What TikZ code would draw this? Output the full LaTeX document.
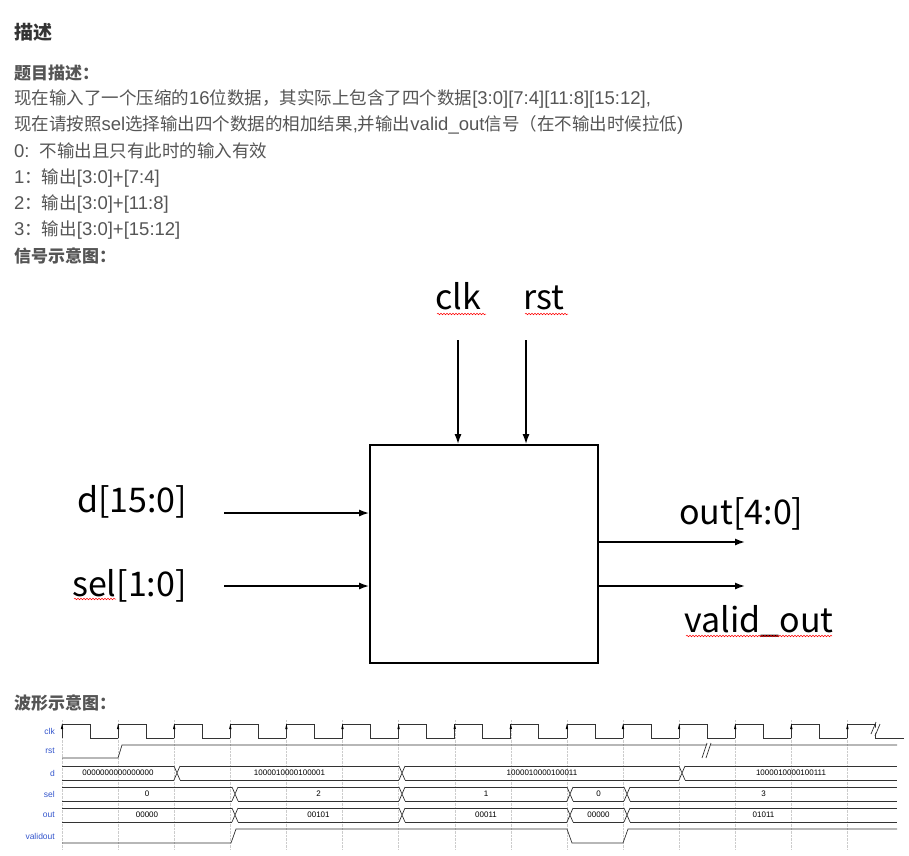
\documentclass[tikz,border=0pt]{standalone}
\usepackage{fontspec}
\setmainfont{Liberation Sans}
\newfontfamily\cjk{Noto Sans CJK SC}
\newfontfamily\wavefont{Liberation Sans}
\usetikzlibrary{arrows.meta,decorations.pathmorphing}
\definecolor{txtgray}{HTML}{555555}
\definecolor{sigblue}{HTML}{3355CC}
\begin{document}
\begin{tikzpicture}[x=1pt,y=-1pt,
    line/.style = {anchor=base west, inner sep=0pt, text=txtgray,
                   font=\fontsize{18.5}{21}\selectfont},
    head/.style = {line, font=\cjk\fontsize{17}{19}\selectfont\bfseries},
    port/.style = {anchor=base west, inner sep=0pt,
                   font=\cjk\fontsize{34}{38}\selectfont},
    pin/.style = {line width=1.5pt, -{Latex[length=10pt,width=7pt]}},
    spell/.style = {red, line width=0.5pt, decorate,
                    decoration={snake, amplitude=0.8pt, segment length=3pt}},
    wave/.style = {line width=0.7pt, black!80},
    grid/.style = {gray!40, densely dotted, line width=0.4pt},
    sig/.style = {anchor=east, inner sep=0pt, text=sigblue,
                  font=\wavefont\fontsize{8.5}{9}\selectfont},
    val/.style = {inner sep=0pt, font=\wavefont\fontsize{8}{9}\selectfont}]
    \useasboundingbox (0,0) rectangle (909,855);

    % text
    \node [head, font=\cjk\fontsize{19}{22}\selectfont\bfseries, text=black!80] (t0) at (14,39) {描述};
    \node [head] (t1) at (14,79) {题目描述：};
    \node [line] (t2) at (14,104) {{\cjk\fontsize{17.5}{21}\selectfont 现在输入了一个压缩的}16{\cjk\fontsize{17.5}{21}\selectfont 位数据，其实际上包含了四个数据}[3:0][7:4][11:8][15:12],};
    \node [line] (t3) at (14,130) {{\cjk\fontsize{17.5}{21}\selectfont 现在请按照}sel{\cjk\fontsize{17.5}{21}\selectfont 选择输出四个数据的相加结果}{,}{\cjk\fontsize{17.5}{21}\selectfont 并输出}valid\_out{\cjk\fontsize{17.5}{21}\selectfont 信号（在不输出时候拉低}{)}};
    \node [line] (t4) at (14,157) {0:\ \ {\cjk\fontsize{17.5}{21}\selectfont 不输出且只有此时的输入有效}};
    \node [line] (t5) at (14,183) {1{\cjk\fontsize{17.5}{21}\selectfont ：输出}[3:0]+[7:4]};
    \node [line] (t6) at (14,209) {2{\cjk\fontsize{17.5}{21}\selectfont ：输出}[3:0]+[11:8]};
    \node [line] (t7) at (14,235) {3{\cjk\fontsize{17.5}{21}\selectfont ：输出}[3:0]+[15:12]};
    \node [head] (t8) at (14,262) {信号示意图：};
    \node [head] (t9) at (14,709) {波形示意图：};

    % block
    \node [draw, line width=1.8pt, minimum width=228pt, minimum height=218pt,
           inner sep=0pt] (blk) at (484,554) {};
    \node [port] (clk) at (435,309) {clk};
    \node [port] (rst) at (523,309) {rst};
    \node [port] (d) at (77,512) {d[15:0]};
    \node [port] (sel) at (72,596) {sel[1:0]};
    \node [port] (out) at (679,524) {out[4:0]};
    \node [port] (vout) at (684,632) {valid\_out};
    \coordinate (clkin) at (458,340);
    \coordinate (rstin) at (526,340);
    \coordinate (din) at (224,513);
    \coordinate (selin) at (224,586);
    \coordinate (oend) at (745,542);
    \coordinate (vend) at (745,586);
    \draw [pin] (clkin) -- (clkin |- blk.north);
    \draw [pin] (rstin) -- (rstin |- blk.north);
    \draw [pin] (din) -- (din -| blk.west);
    \draw [pin] (selin) -- (selin -| blk.west);
    \draw [pin] (oend -| blk.east) -- (oend);
    \draw [pin] (vend -| blk.east) -- (vend);
    \draw [spell] (437,314) -- (486,314);
    \draw [spell] (525,314) -- (568,314);
    \draw [spell] (74,599) -- (116,599);
    \draw [spell] (686,636) -- (832,636);

    % waveform
    \foreach \e in {0,...,14}
        \draw [grid] (62+56.1*\e,720) -- (62+56.1*\e,850);
    \node [sig] (lclk) at (55,731) {clk};
    \node [sig] (lrst) at (55,751) {rst};
    \node [sig] (ld) at (55,773) {d};
    \node [sig] (lsel) at (55,794) {sel};
    \node [sig] (lout) at (55,815) {out};
    \node [sig] (lvo) at (55,836) {validout};
    \foreach \e in {0,...,14} {
        \draw [wave] (62+56.1*\e,738) -- (62+56.1*\e,724) -- (90+56.1*\e,724)
            -- (90+56.1*\e,738) -- (118.1+56.1*\e,738);
        \fill (62+56.1*\e,724) -- (60.8+56.1*\e,729) -- (63.2+56.1*\e,729) -- cycle;
    }
    \draw [white, line width=3pt] (873,734) -- (880,724);
    \draw [wave] (871,734) -- (876,722) (875,736) -- (880,724);
    \draw [wave] (62,758) -- (118,758) -- (122,745) -- (897,745);
    \draw [white, line width=3pt] (704,757) -- (710,742);
    \draw [wave] (702,758) -- (707,743) (706,758) -- (711,743);
    % buses
    \foreach \y/\segs in {766/{59/177/0000000000000000,177/402/1000010000100001,402/682/1000010000100011,682/900/1000010000100111},
                          787/{59/235/0,235/402/2,402/570/1,570/627/0,627/900/3},
                          808/{59/235/00000,235/402/00101,402/570/00011,570/627/00000,627/900/01011}} {
        \foreach \a/\b/\t in \segs {
            \draw [wave] (\a+3,\y) -- (\b-3,\y) (\a+3,\y+14) -- (\b-3,\y+14);
            \node [val] at ({(\a+\b)/2},\y+7) {\t};
        }
    }
    \foreach \y/\tr in {766/177,766/402,766/682,787/235,787/402,787/570,787/627,
                        808/235,808/402,808/570,808/627}
        \draw [wave] (\tr-3,\y) -- (\tr+3,\y+14) (\tr-3,\y+14) -- (\tr+3,\y);
    \draw [wave] (62,843) -- (231,843) -- (236,829) -- (567,829) -- (572,843)
        -- (623,843) -- (628,829) -- (897,829);
\end{tikzpicture}
\end{document}
